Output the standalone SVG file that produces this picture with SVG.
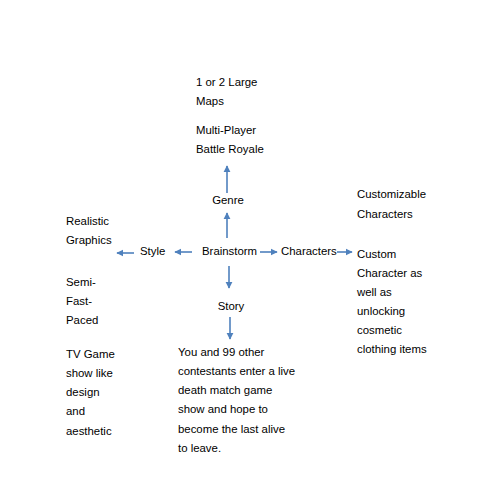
<svg xmlns="http://www.w3.org/2000/svg" width="480" height="480" viewBox="0 0 480 480">
<style>
text{font-family:"Liberation Sans",Arial,sans-serif;font-size:11.4px;fill:#000}
.c{stroke:#4f81bd;stroke-width:1.6;fill:none}
</style>
<defs>
<marker id="ah" viewBox="0 0 10 10" refX="9" refY="5" markerWidth="4.5" markerHeight="4.5" orient="auto" markerUnits="strokeWidth">
<path d="M0,0 L10,5 L0,10 Z" fill="#4f81bd"/>
</marker>
</defs>
<rect width="480" height="480" fill="#fff"/>
<g id="connectors">
<line class="c" x1="227" y1="193" x2="227" y2="166" marker-end="url(#ah)"/>
<line class="c" x1="227" y1="238" x2="227" y2="213" marker-end="url(#ah)"/>
<line class="c" x1="192" y1="252" x2="175" y2="252" marker-end="url(#ah)"/>
<line class="c" x1="134" y1="253" x2="117" y2="253" marker-end="url(#ah)"/>
<line class="c" x1="260" y1="252" x2="277" y2="252" marker-end="url(#ah)"/>
<line class="c" x1="337" y1="252" x2="352" y2="252" marker-end="url(#ah)"/>
<line class="c" x1="229" y1="266" x2="229" y2="288" marker-end="url(#ah)"/>
<line class="c" x1="230" y1="317" x2="230" y2="339" marker-end="url(#ah)"/>
</g>
<g id="brainstorm"><text x="202" y="255">Brainstorm</text></g>
<g id="genre"><text x="228" y="204" text-anchor="middle">Genre</text></g>
<g id="genre-details">
<text x="196" y="86">1 or 2 Large</text>
<text x="196" y="105">Maps</text>
<text x="196" y="134">Multi-Player</text>
<text x="196" y="153">Battle Royale</text>
</g>
<g id="style"><text x="140" y="255">Style</text></g>
<g id="style-details">
<text x="66" y="225">Realistic</text>
<text x="66" y="244">Graphics</text>
<text x="66" y="286">Semi-</text>
<text x="66" y="305">Fast-</text>
<text x="66" y="324">Paced</text>
<text x="66" y="358">TV Game</text>
<text x="66" y="377">show like</text>
<text x="66" y="396">design</text>
<text x="66" y="415">and</text>
<text x="66" y="435">aesthetic</text>
</g>
<g id="characters"><text x="281" y="255">Characters</text></g>
<g id="characters-details">
<text x="357" y="198">Customizable</text>
<text x="357" y="218">Characters</text>
<text x="357" y="258">Custom</text>
<text x="357" y="277">Character as</text>
<text x="357" y="296">well as</text>
<text x="357" y="315">unlocking</text>
<text x="357" y="334">cosmetic</text>
<text x="357" y="353">clothing items</text>
</g>
<g id="story"><text x="231" y="310" text-anchor="middle">Story</text></g>
<g id="story-details">
<text x="178" y="356">You and 99 other</text>
<text x="178" y="375">contestants enter a live</text>
<text x="178" y="394">death match game</text>
<text x="178" y="413">show and hope to</text>
<text x="178" y="433">become the last alive</text>
<text x="178" y="452">to leave.</text>
</g>
</svg>
